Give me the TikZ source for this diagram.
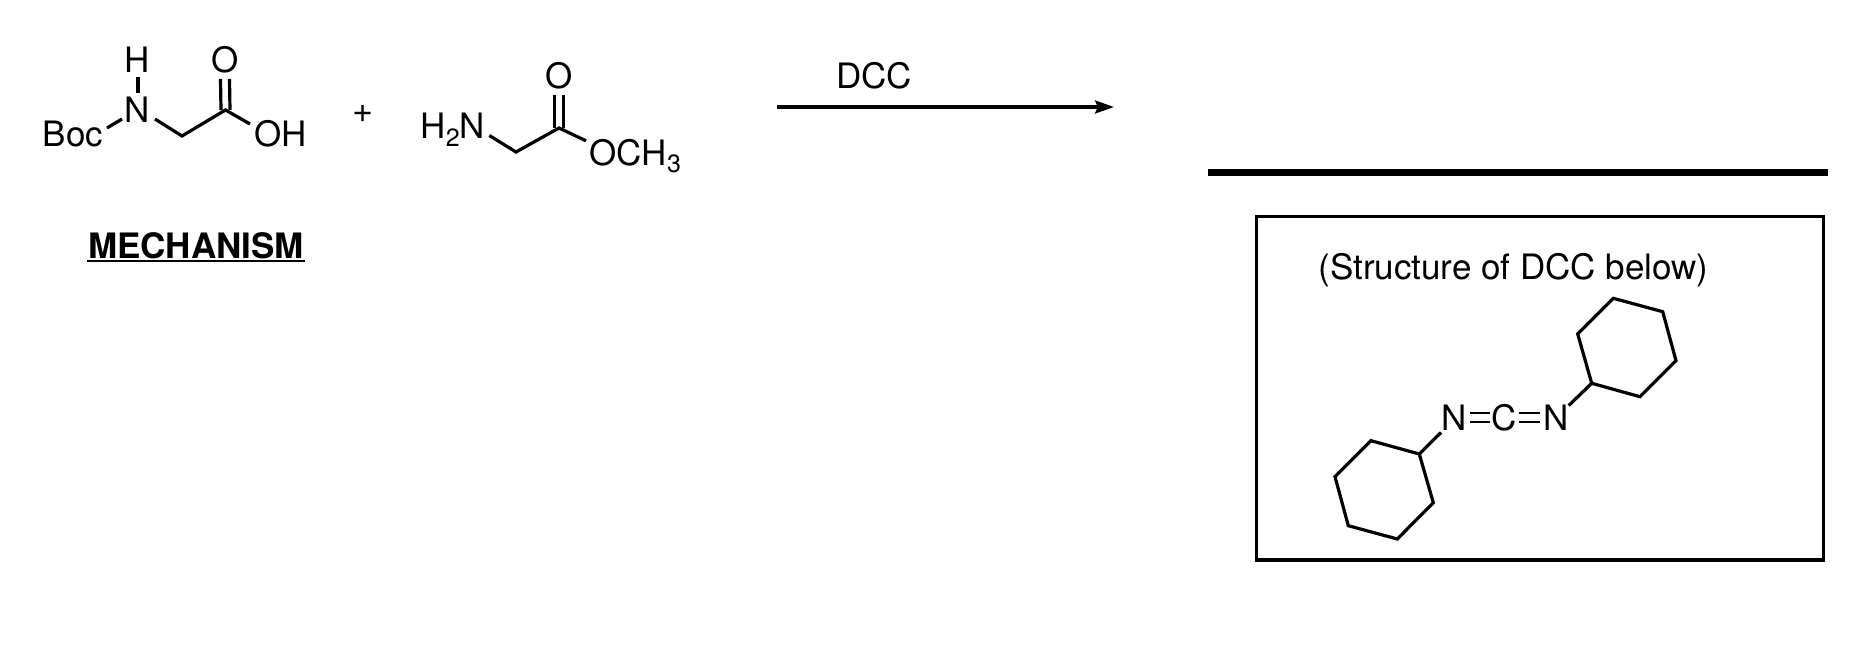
\documentclass[tikz,border=0pt]{standalone}
\usepackage{fontspec}
\setmainfont{TeX Gyre Heros}
\usetikzlibrary{arrows.meta,calc}
\tikzset{
  bond/.style={line width=3.2pt,line cap=butt,line join=miter},
  atom/.style={inner sep=0pt,font=\fontsize{35}{38}\selectfont,text height=25pt,text depth=0pt},
}
\newcommand{\subt}[1]{\raisebox{-7.5pt}{\fontsize{25}{26}\selectfont #1}}
\begin{document}
\begin{tikzpicture}[x=1pt,y=-1pt]
\useasboundingbox (0,0) rectangle (1872,666);
% Boc-Gly-OH
\node[atom] (boc) at (73,134.5) {Boc};
\node[atom] (n1) at (137,110) {N};
\node[atom] (h1) at (137,60.5) {H};
\node[atom] (o1) at (225,60.5) {O};
\node[atom] (oh) at (281,134.5) {OH};
\coordinate (ca1) at (182,136);
\coordinate (c1) at (225.5,110);
\draw[bond] ([shift={(34,-6.5)}]boc.center) -- ([shift={(-15,9)}]n1.center);
\draw[bond] ([shift={(1,16.5)}]h1.center) -- ([shift={(1,-17)}]n1.center);
\draw[bond] ([shift={(18,9)}]n1.center) -- (ca1) -- (c1) -- ([shift={(-31,-10.5)}]oh.center);
\draw[bond] ([xshift=-4.5pt]c1) -- ([shift={(-4.5,18.5)}]o1.center);
\draw[bond] ([xshift=4.5pt]c1) -- ([shift={(4.5,18.5)}]o1.center);
\node[inner sep=0pt,anchor=base,font=\fontsize{36}{38}\selectfont] (plus) at (363,123) {+};
% H2N-Gly-OMe
\node[atom,anchor=base west] (nh2) at (420.5,139) {H\subt{2}N};
\node[atom] (o2) at (559,76.5) {O};
\node[atom,anchor=base west] (ome) at (589.5,165) {OCH\subt{3}};
\coordinate (ca2) at (516,152);
\coordinate (c2) at (559,128);
\draw[bond] ([shift={(4,9)}]nh2.east) -- (ca2) -- (c2) -- ([shift={(-3.5,1)}]ome.north west);
\draw[bond] ([xshift=-4.5pt]c2) -- ([shift={(-4.5,18.5)}]o2.center);
\draw[bond] ([xshift=4.5pt]c2) -- ([shift={(4.5,18.5)}]o2.center);
% Reaction arrow
\node[atom,anchor=base] (dcc) at (874,88.5) {DCC};
\coordinate (as) at (777,107);
\coordinate (ae) at (1114,107);
\draw[line width=3.2pt,-{Stealth[length=19pt,width=13pt,inset=3pt]}] (as) -- (ae);
% Answer line
\coordinate (l1) at (1208,172.5);
\coordinate (l2) at (1828,172.5);
\draw[line width=7pt] (l1) -- (l2);
% Mechanism
\node[inner sep=0pt,anchor=base,font=\fontsize{35}{38}\selectfont\bfseries] (mech) at (196,258) {MECHANISM};
\draw[line width=2pt] ([shift={(-0.5,2.5)}]mech.base west) -- ([shift={(1,2.5)}]mech.base east);
% Box
\node[draw,line width=3.2pt,outer sep=0pt,minimum width=566.8pt,minimum height=343.3pt,inner sep=0pt,anchor=north west] (box) at (1256.7,216.7) {};
\node[anchor=base,inner sep=0pt,font=\fontsize{35}{38}\selectfont] (cap) at (1513.5,279) {(Structure of DCC below)};
% DCC structure
\node[atom,anchor=base] (n2) at (1454.5,430) {N};
\node[atom,anchor=base] (c3) at (1504,430) {C};
\node[atom,anchor=base] (n3) at (1556,430) {N};
\foreach \y in {-4.5,4.5}{
  \draw[line width=2.8pt] ($(n2.center)+(15.5,\y)$) -- ($(c3.center)+(-14,\y)$);
  \draw[line width=2.8pt] ($(c3.center)+(15,\y)$) -- ($(n3.center)+(-16,\y)$);
}
\coordinate (a1) at (1591.7,383.3);
\coordinate (a2) at (1577.7,334);
\coordinate (a3) at (1613.3,298.3);
\coordinate (a4) at (1662.7,311.7);
\coordinate (a5) at (1676,360.7);
\coordinate (a6) at (1640,396.7);
\draw[bond] (a1) -- (a2) -- (a3) -- (a4) -- (a5) -- (a6) -- cycle;
\coordinate (b1) at (1419.3,454);
\coordinate (b2) at (1371,440.7);
\coordinate (b3) at (1335,476.7);
\coordinate (b4) at (1348.3,525.7);
\coordinate (b5) at (1397.3,539);
\coordinate (b6) at (1433.3,502.7);
\draw[bond] (b1) -- (b2) -- (b3) -- (b4) -- (b5) -- (b6) -- cycle;
\draw[bond] (b1) -- ([shift={(-13.5,15)}]n2.center);
\draw[bond] (a1) -- ([shift={(12.7,-12)}]n3.center);
\end{tikzpicture}
\end{document}
